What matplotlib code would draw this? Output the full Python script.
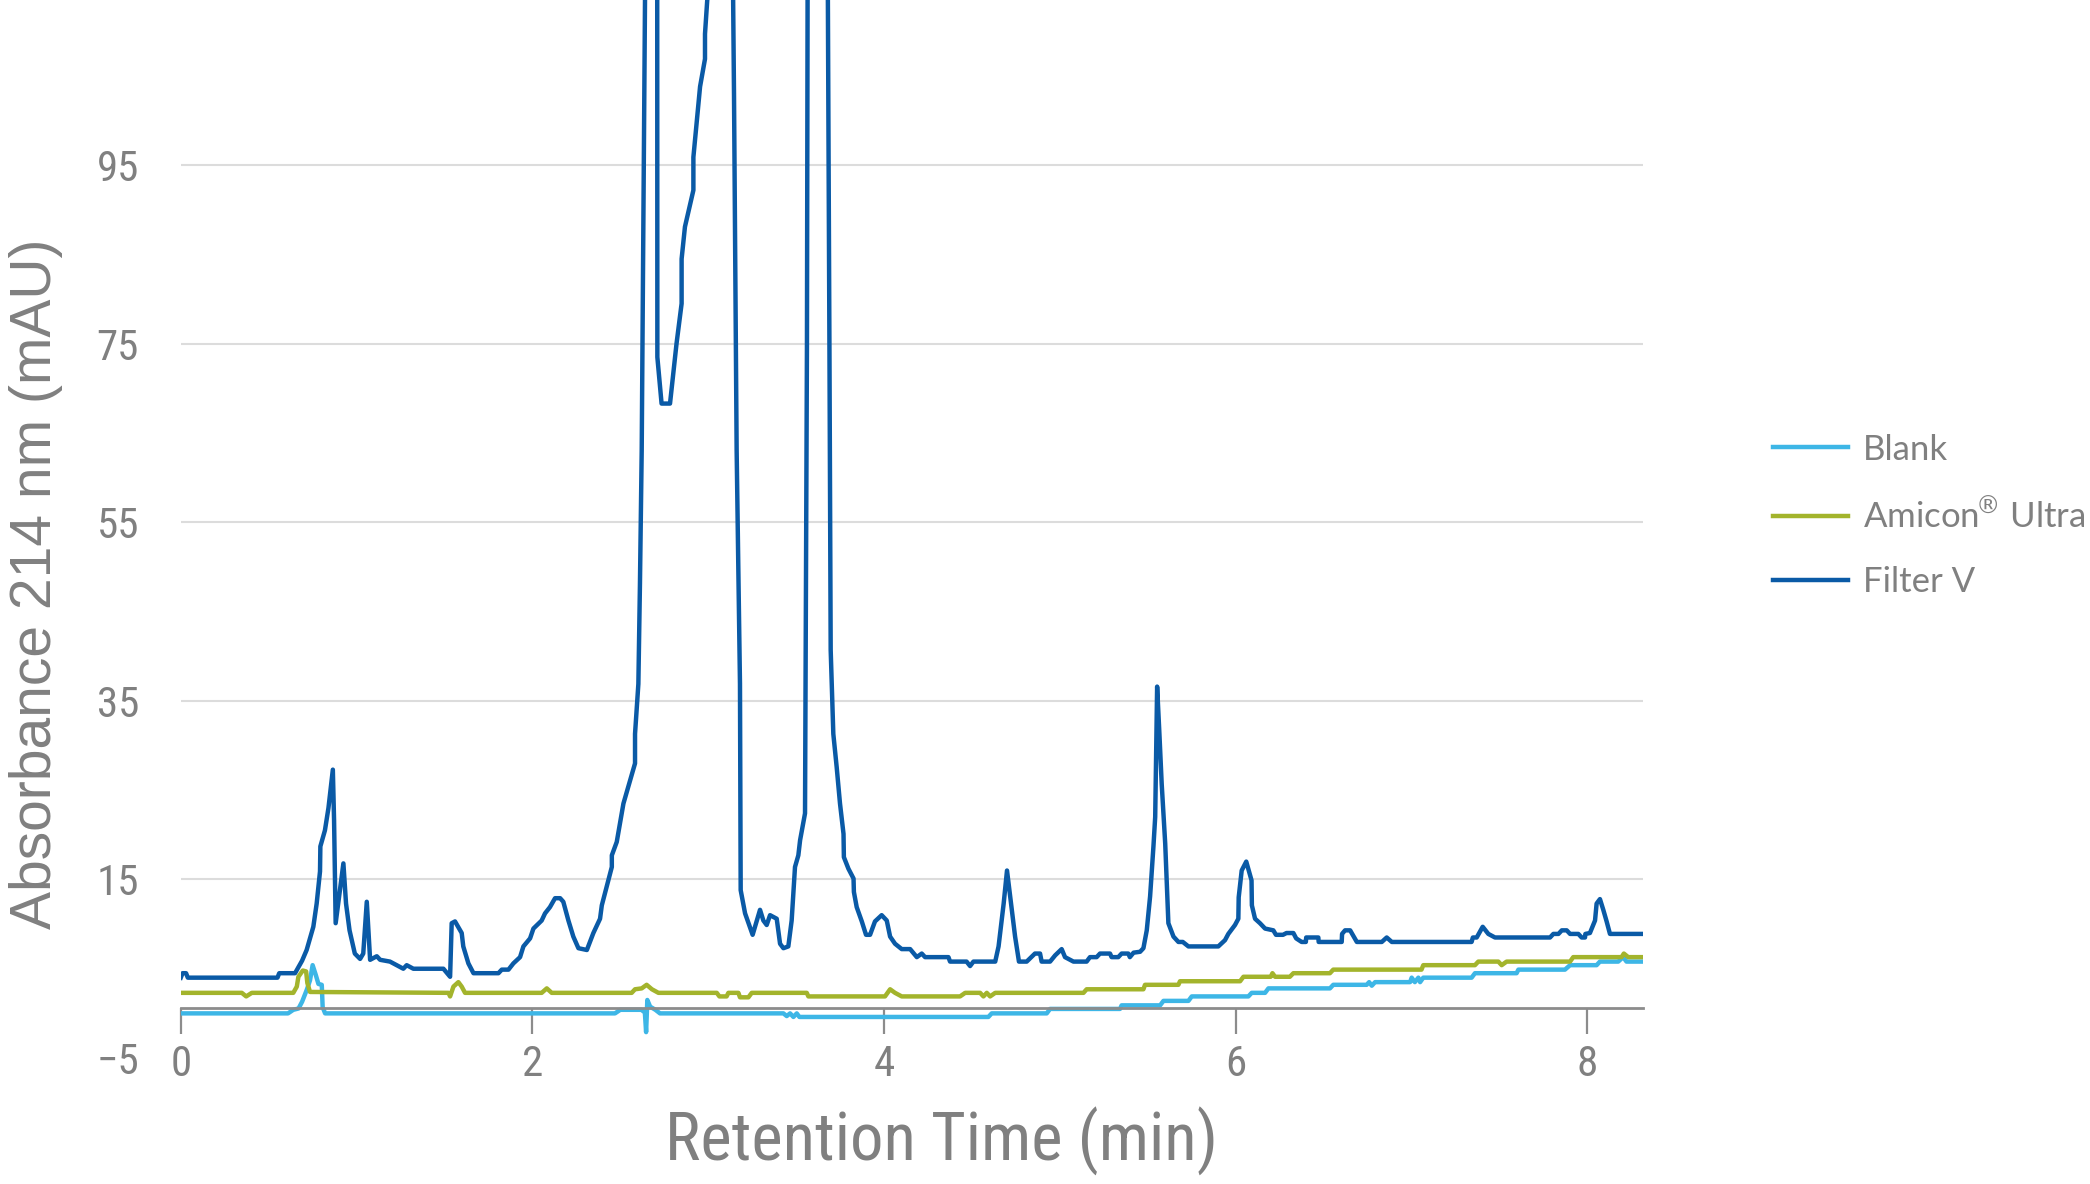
import matplotlib
matplotlib.use("Agg")
import matplotlib.pyplot as plt
from matplotlib import font_manager


def pick_font(*names):
    have = {f.name for f in font_manager.fontManager.ttflist}
    for n in names:
        if n in have:
            return n
    return "DejaVu Sans"


narrow = pick_font("Liberation Sans Narrow", "Roboto Condensed", "DejaVu Sans")
wide = pick_font("Liberation Sans", "DejaVu Sans")
legend_font = pick_font("Lato", "Noto Sans", "DejaVu Sans")

# retention time (min) / absorbance (mAU)
blank_t = [0.00, 0.61, 0.64, 0.67, 0.69, 0.716, 0.735, 0.75, 0.768, 0.783, 0.802, 0.807, 0.821,
           2.47, 2.50, 2.62, 2.64, 2.647, 2.654, 2.67, 2.70, 2.726, 3.428, 3.447, 3.466, 3.485,
           3.504, 3.519, 4.594, 4.613, 4.926, 4.945, 5.343, 5.352, 5.571, 5.59, 5.732, 5.751,
           6.073, 6.092, 6.168, 6.187, 6.537, 6.556, 6.746, 6.76, 6.775, 6.794, 6.993, 7.002,
           7.02, 7.04, 7.05, 7.068, 7.343, 7.362, 7.599, 7.609, 7.874, 7.903, 8.054, 8.073,
           8.177, 8.205, 8.224, 8.32]
blank_v = [0.0, 0.0, 0.4, 0.55, 1.3, 2.6, 3.7, 5.4, 4.3, 3.3, 3.2, 0.7, 0.0,
           0.0, 0.4, 0.4, 0.1, -2.1, 1.5, 0.75, 0.4, 0.0, 0.0, -0.3, 0.0, -0.4,
           0.0, -0.4, -0.4, 0.0, 0.0, 0.5, 0.5, 0.9, 0.9, 1.4, 1.4, 1.9,
           1.9, 2.3, 2.3, 2.8, 2.8, 3.2, 3.2, 3.5, 3.1, 3.5, 3.5, 4.0,
           3.5, 4.0, 3.5, 4.0, 4.0, 4.5, 4.5, 4.9, 4.9, 5.4, 5.4, 5.8,
           5.8, 6.3, 5.8, 5.8]

amicon_t = [0.00, 0.347, 0.372, 0.404, 0.64, 0.66, 0.669, 0.694, 0.713, 0.72, 0.735, 1.523,
            1.532, 1.551, 1.579, 1.598, 1.617, 2.053, 2.082, 2.11, 2.565, 2.584, 2.622, 2.65,
            2.68, 2.717, 3.049, 3.064, 3.105, 3.115, 3.172, 3.181, 3.229, 3.248, 3.561, 3.57,
            4.006, 4.035, 4.063, 4.101, 4.433, 4.462, 4.547, 4.566, 4.585, 4.604, 4.633, 5.135,
            5.153, 5.476, 5.485, 5.675, 5.684, 6.026, 6.045, 6.20, 6.21, 6.225, 6.309, 6.329,
            6.537, 6.556, 7.058, 7.068, 7.362, 7.381, 7.495, 7.514, 7.542, 7.903, 7.921, 8.196,
            8.209, 8.234, 8.32]
amicon_v = [2.3, 2.3, 1.9, 2.3, 2.3, 3.0, 4.1, 4.8, 4.7, 3.4, 2.4, 2.3,
            1.9, 3.0, 3.5, 3.0, 2.3, 2.3, 2.8, 2.3, 2.3, 2.7, 2.8, 3.2,
            2.7, 2.3, 2.3, 1.9, 1.9, 2.3, 2.3, 1.8, 1.8, 2.3, 2.3, 1.9,
            1.9, 2.7, 2.3, 1.9, 1.9, 2.3, 2.3, 1.9, 2.3, 1.9, 2.3, 2.3,
            2.7, 2.7, 3.2, 3.2, 3.6, 3.6, 4.1, 4.1, 4.5, 4.1, 4.1, 4.5,
            4.5, 4.9, 4.9, 5.4, 5.4, 5.8, 5.8, 5.4, 5.8, 5.8, 6.3, 6.3,
            6.7, 6.3, 6.3]

# the three big peaks run off the top of the plot; apex values are guesses
filter_t = [0.00, 0.01, 0.03, 0.04, 0.55, 0.56, 0.65, 0.66, 0.69, 0.716, 0.735, 0.754, 0.773,
            0.792, 0.794, 0.82, 0.84, 0.865, 0.872, 0.881, 0.925, 0.94, 0.96, 0.99, 1.02,
            1.038, 1.058, 1.077, 1.096, 1.115, 1.134, 1.19, 1.228, 1.266, 1.285, 1.323, 1.494,
            1.532, 1.541, 1.56, 1.598, 1.607, 1.636, 1.665, 1.807, 1.826, 1.864, 1.892, 1.93,
            1.949, 1.987, 2.006, 2.053, 2.072, 2.10, 2.129, 2.158, 2.176, 2.205, 2.233, 2.262,
            2.31, 2.347, 2.385, 2.395, 2.423, 2.452, 2.452, 2.48, 2.518, 2.584, 2.584, 2.603,
            2.612, 2.622, 2.645, 2.69, 2.71, 2.711, 2.735, 2.783, 2.82, 2.849, 2.849, 2.868,
            2.916, 2.916, 2.954, 2.982, 2.982, 3.01, 3.07, 3.14, 3.147, 3.162, 3.181, 3.185,
            3.21, 3.253, 3.295, 3.314, 3.333, 3.352, 3.39, 3.409, 3.428, 3.456, 3.475, 3.494,
            3.513, 3.523, 3.551, 3.557, 3.562, 3.566, 3.62, 3.68, 3.69, 3.697, 3.712, 3.731,
            3.75, 3.77, 3.772, 3.798, 3.827, 3.829, 3.845, 3.874, 3.898, 3.921, 3.949, 3.987,
            4.016, 4.035, 4.063, 4.101, 4.149, 4.187, 4.215, 4.234, 4.367, 4.376, 4.47, 4.49,
            4.509, 4.633, 4.652, 4.681, 4.70, 4.727, 4.746, 4.768, 4.812, 4.859, 4.888, 4.897,
            4.945, 4.974, 5.011, 5.03, 5.078, 5.153, 5.172, 5.21, 5.229, 5.286, 5.295, 5.333,
            5.352, 5.39, 5.399, 5.42, 5.457, 5.476, 5.495, 5.514, 5.533, 5.543, 5.554, 5.567,
            5.58, 5.60, 5.618, 5.647, 5.675, 5.70, 5.732, 5.902, 5.94, 5.959, 5.997, 6.016,
            6.018, 6.035, 6.061, 6.091, 6.093, 6.111, 6.139, 6.168, 6.215, 6.23, 6.27, 6.29,
            6.329, 6.345, 6.376, 6.40, 6.402, 6.471, 6.473, 6.604, 6.606, 6.623, 6.652, 6.69,
            6.832, 6.86, 6.889, 7.343, 7.35, 7.372, 7.406, 7.438, 7.476, 7.789, 7.808, 7.837,
            7.856, 7.884, 7.903, 7.95, 7.969, 7.988, 7.99, 8.016, 8.045, 8.054, 8.073, 8.092,
            8.111, 8.13, 8.32]
filter_v = [4.0, 4.5, 4.5, 4.0, 4.0, 4.5, 4.5, 4.85, 5.9, 7.1, 8.4, 9.7, 12.3,
            15.9, 18.7, 20.5, 23.0, 27.3, 21.6, 10.1, 16.8, 12.3, 9.3, 6.7, 6.1,
            6.7, 12.5, 6.0, 6.2, 6.4, 6.0, 5.8, 5.4, 5.0, 5.4, 5.0, 5.0,
            4.1, 10.1, 10.3, 9.0, 7.5, 5.6, 4.5, 4.5, 4.9, 4.9, 5.6, 6.3,
            7.5, 8.4, 9.5, 10.4, 11.2, 11.9, 12.9, 12.9, 12.5, 10.4, 8.6, 7.3,
            7.1, 9.0, 10.6, 12.1, 14.2, 16.4, 17.7, 19.2, 23.5, 28.0, 31.3, 36.9,
            48.1, 63.1, 125, 160, 125, 73.5, 68.3, 68.3, 75.0, 79.5, 84.5, 88.1,
            92.2, 95.9, 103.8, 106.9, 109.7, 118, 160, 118, 103.0, 63.1, 36.9, 13.8,
            11.2, 8.8, 11.6, 10.4, 9.9, 11.0, 10.6, 7.8, 7.3, 7.5, 10.4, 16.4,
            17.7, 19.4, 22.4, 50.0, 75, 118, 160, 118, 74.3, 40.7, 31.3, 27.6,
            23.5, 20.1, 17.5, 16.2, 15.1, 13.6, 11.9, 10.3, 8.8, 8.8, 10.3, 11.0,
            10.4, 8.6, 7.8, 7.2, 7.2, 6.3, 6.7, 6.3, 6.3, 5.8, 5.8, 5.3,
            5.8, 5.8, 7.5, 12.3, 16.0, 11.6, 8.6, 5.8, 5.8, 6.7, 6.7, 5.8,
            5.8, 6.5, 7.2, 6.3, 5.8, 5.8, 6.3, 6.3, 6.7, 6.7, 6.3, 6.3,
            6.7, 6.7, 6.3, 6.8, 6.9, 7.3, 9.3, 13.1, 18.7, 22.0, 36.6, 31.3,
            25.7, 19.0, 10.1, 8.6, 8.0, 8.0, 7.5, 7.5, 8.2, 8.9, 9.9, 10.6,
            13.0, 16.0, 17.0, 14.9, 12.1, 10.6, 10.1, 9.5, 9.3, 8.8, 8.8, 9.0,
            9.0, 8.4, 8.0, 8.0, 8.5, 8.5, 8.0, 8.0, 8.9, 9.3, 9.3, 8.0,
            8.0, 8.5, 8.0, 8.0, 8.5, 8.5, 9.7, 8.9, 8.5, 8.5, 8.9, 8.9,
            9.3, 9.3, 8.9, 8.9, 8.5, 8.5, 8.9, 9.0, 10.4, 12.3, 12.8, 11.6,
            10.3, 8.9, 8.9]

series = [("Blank", blank_t, blank_v, "#3db6e6"),
          (r"Amicon$^{\!\circledR}$ Ultra", amicon_t, amicon_v, "#a3b42c"),
          ("Filter V", filter_t, filter_v, "#0a5aa6")]

y_ticks = [-5, 15, 35, 55, 75, 95]
x_ticks = [0, 2, 4, 6, 8]

gray = "#808080"

fig = plt.figure(figsize=(20.9, 11.84), dpi=100)
ax = fig.add_axes([0.0865, 0.1064, 0.6998, 0.8936])

for name, t, v, c in series:
    ax.plot(t, v, color=c, lw=3.2, label=name)

ax.set_xlim(0, 8.32)
ax.set_ylim(-5, 113.5)
ax.set_xticks(x_ticks)
ax.set_yticks(y_ticks)

for s in ["left", "top", "right"]:
    ax.spines[s].set_visible(False)
ax.spines["bottom"].set_position(("data", 0.6))
ax.spines["bottom"].set_color("#8c8c8c")
ax.spines["bottom"].set_linewidth(2)

ax.tick_params(axis="x", length=18.7, width=1.6, color="#8c8c8c", pad=7,
               labelsize=31, labelcolor=gray)
ax.tick_params(axis="y", length=0, pad=30, labelsize=31, labelcolor=gray)
for lab in ax.get_xticklabels() + ax.get_yticklabels():
    lab.set_fontfamily(narrow)

ax.grid(axis="y", color="#dcdcdc", lw=1.5)
ax.yaxis.get_gridlines()[0].set_visible(False)
ax.set_axisbelow(True)

ax.legend(loc="center left", bbox_to_anchor=(0.8483, 0.5645), bbox_transform=fig.transFigure,
          frameon=False, handlelength=2.15, handletextpad=0.45, labelspacing=0.92,
          borderpad=0, borderaxespad=0, labelcolor=gray,
          prop={"family": legend_font, "size": 25})

fig.text(0.017, 0.507, "Absorbance 214 nm (mAU)", rotation=90, ha="center", va="center",
         fontsize=41, family=wide, color=gray)
fig.text(0.4507, 0.0355, "Retention Time (min)", ha="center", va="center",
         fontsize=48, family=narrow, color=gray)

fig.savefig("out.png", dpi=100)
